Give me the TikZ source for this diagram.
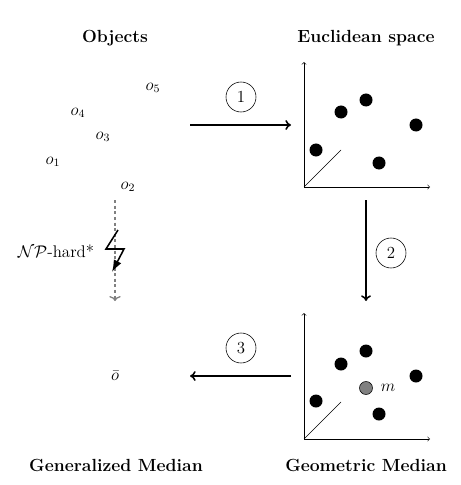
\documentclass[tikz,border=0pt]{standalone}
\usepackage{xcolor}
\usetikzlibrary{arrows.meta}

\begin{document}
\begin{tikzpicture}[
    x=0.025cm, y=-0.025cm,
    every node/.style={font=\large},
    title/.style={font=\fontsize{12.5}{15}\selectfont\bfseries},
    point/.style={circle, fill=black, inner sep=0pt, minimum size=0.325cm},
    medianpt/.style={circle, draw=black, fill=gray, inner sep=0pt, minimum size=0.325cm},
    stepnum/.style={circle, draw, inner sep=0pt, minimum size=0.75cm},
    bigarrow/.style={-{To[length=4pt,width=7pt]}, line width=1.1pt},
    axis/.style={-to, line width=0.4pt}
]
\useasboundingbox (0,0) rectangle (460,485);

% titles
\node[title] (objects) at (115,38) {Objects};
\node[title] (euclid) at (366,38) {Euclidean space};
\node[title] (genmed) at (116,465) {Generalized Median};
\node[title] (geomed) at (366,465) {Geometric Median};

% objects
\node (o5) at (153,88) {$o_5$};
\node (o4) at (78,113) {$o_4$};
\node (o3) at (103,137) {$o_3$};
\node (o1) at (53,162) {$o_1$};
\node (o2) at (128,187) {$o_2$};
\node (obar) at (115,376) {$\bar{o}$};

% first axes
\coordinate (org1) at (304,187);
\coordinate (top1) at (304,62);
\coordinate (right1) at (430,187);
\coordinate (diag1) at (341,150);
\draw[axis] (org1) -- (top1);
\draw[axis] (org1) -- (right1);
\draw[line width=0.4pt] (org1) -- (diag1);
\node[point] (p1) at (316,150) {};
\node[point] (p2) at (341,112) {};
\node[point] (p3) at (366,100) {};
\node[point] (p4) at (416,125) {};
\node[point] (p5) at (379,163) {};

% second axes
\coordinate (org2) at (304,439);
\coordinate (top2) at (304,313);
\coordinate (right2) at (430,439);
\coordinate (diag2) at (341,402);
\draw[axis] (org2) -- (top2);
\draw[axis] (org2) -- (right2);
\draw[line width=0.4pt] (org2) -- (diag2);
\node[point] (q1) at (316,401) {};
\node[point] (q2) at (341,364) {};
\node[point] (q3) at (366,351) {};
\node[point] (q4) at (416,376) {};
\node[point] (q5) at (379,414) {};
\node[medianpt] (med) at (366,388) {};
\node (mlabel) at (388,388) {$m$};

% steps
\coordinate (a1s) at (190,125);
\coordinate (a1e) at (291,125);
\coordinate (a2s) at (366,200);
\coordinate (a2e) at (366,301);
\coordinate (a3s) at (291,376);
\coordinate (a3e) at (190,376);
\draw[bigarrow] (a1s) -- (a1e);
\draw[bigarrow] (a2s) -- (a2e);
\draw[bigarrow] (a3s) -- (a3e);
\node[stepnum] (s1) at (241,97) {1};
\node[stepnum] (s2) at (391,253) {2};
\node[stepnum] (s3) at (241,348) {3};

% hard direct way
\coordinate (d1) at (115,200);
\coordinate (d2) at (115,301);
\draw[-{To[length=3.5pt,width=8pt]}, dash pattern=on 2.2pt off 1.8pt, gray, line width=0.9pt] (d1) -- (d2);
\coordinate (z1) at (118,230);
\coordinate (z2) at (106,249);
\coordinate (z3) at (124,249);
\coordinate (z4) at (112,272);
\draw[-{Latex[length=8.5pt,width=6pt]}, line width=1.1pt] (z1) -- (z2) -- (z3) -- (z4);
\node (hard) at (56,251) {$\mathcal{NP}$-hard*};

\end{tikzpicture}
\end{document}
